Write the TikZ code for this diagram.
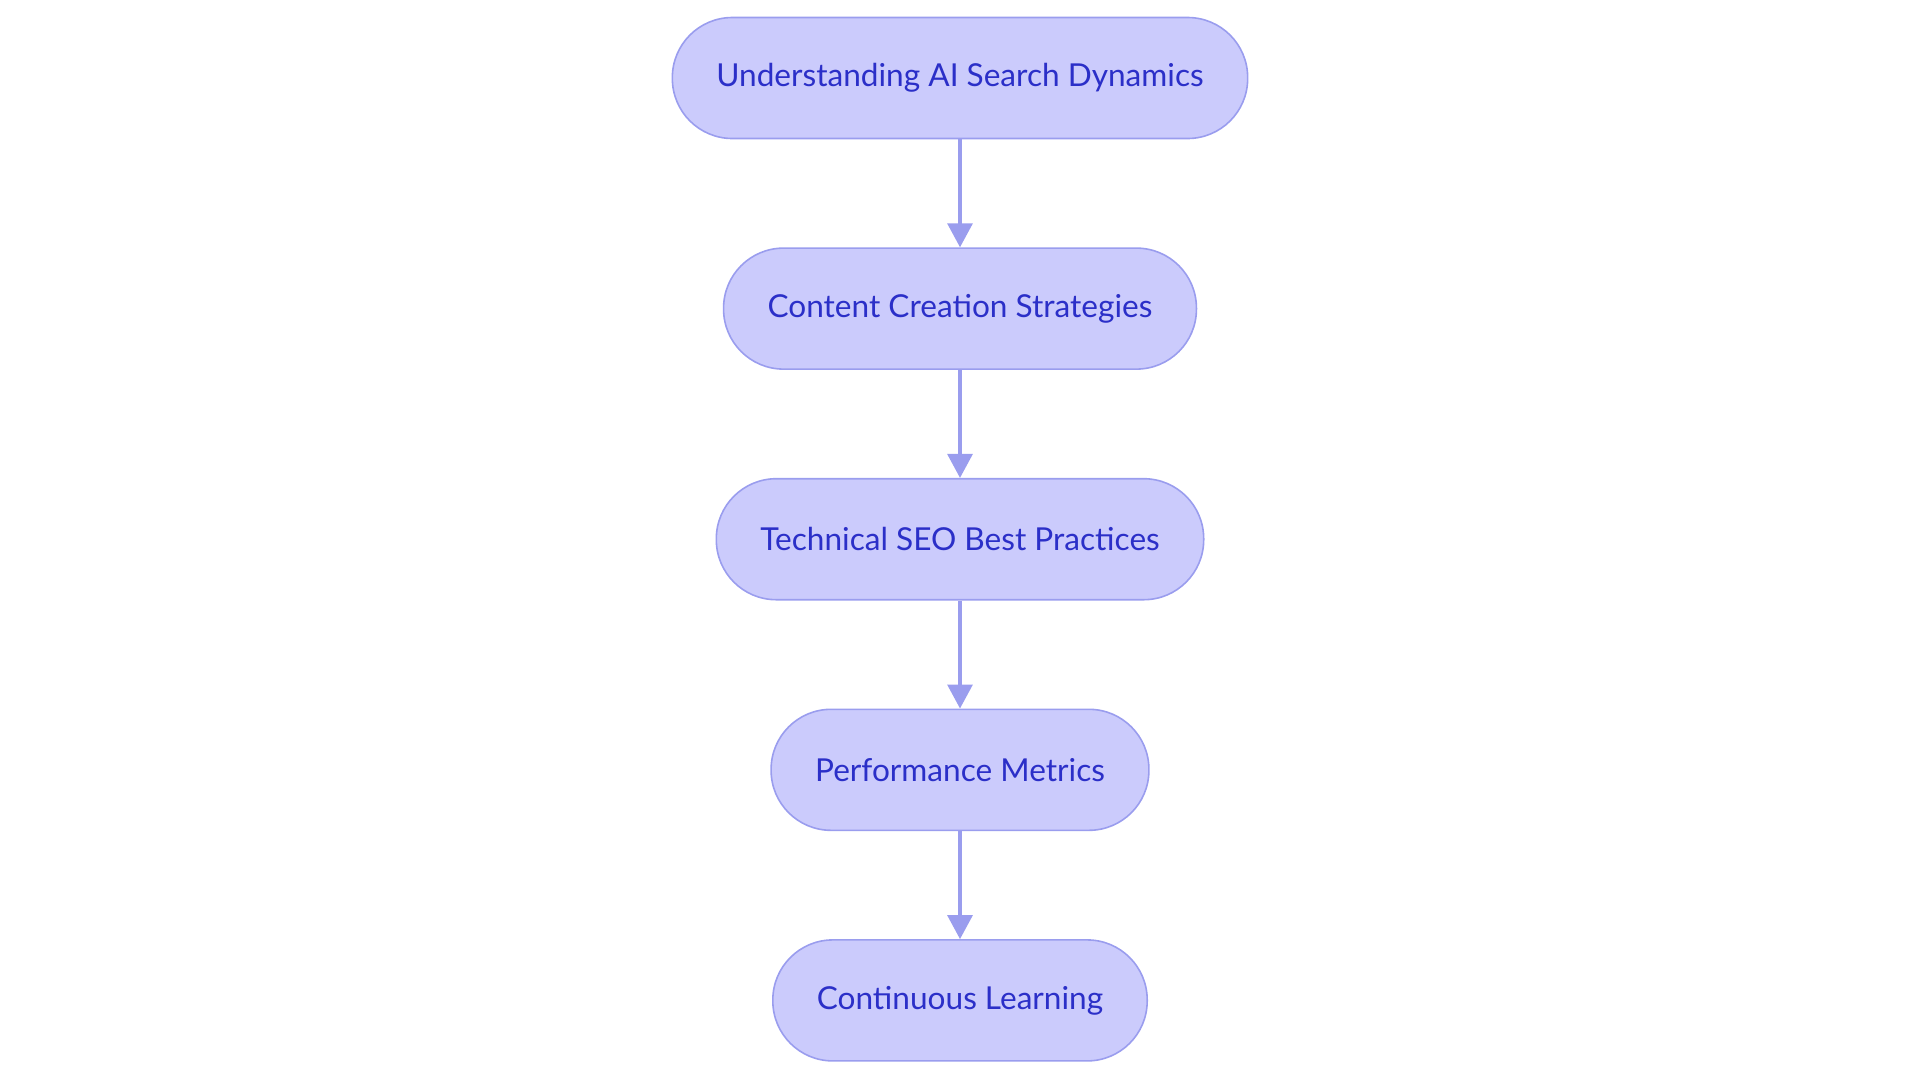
\documentclass[tikz,border=0pt]{standalone}
\usepackage{fontspec}
\setmainfont{Lato}
\usepackage{tikz}
\usetikzlibrary{arrows.meta, positioning}
\usepackage{xcolor}

\definecolor{stepfill}{HTML}{CBCBFC}
\definecolor{stepline}{HTML}{9A9DEE}
\definecolor{steptext}{HTML}{2B2FC8}

\begin{document}
\begin{tikzpicture}[
        stage/.style={rectangle, draw=stepline, line width=0.8pt, fill=stepfill, rounded corners=30pt,
            minimum height=60.5pt, inner xsep=22pt, text=steptext, font=\fontsize{15.8}{18}\selectfont},
        arr/.style={-{Triangle[length=12pt, width=12.5pt]}, line width=1.6pt, stepline},
        node distance=54pt
    ]
        \useasboundingbox (0,0) rectangle (960pt,-541.5pt);

        % Stages, top to bottom
        \node[stage] (dyn) at (480pt,-39pt) {Understanding AI Search Dynamics};
        \node[stage, below=of dyn] (content) {Content Creation Strategies};
        \node[stage, below=of content] (tech) {Technical SEO Best Practices};
        \node[stage, below=of tech] (metrics) {Performance Metrics};
        \node[stage, below=of metrics] (learn) {Continuous Learning};

        % Flow
        \draw[arr] (dyn) -- (content);
        \draw[arr] (content) -- (tech);
        \draw[arr] (tech) -- (metrics);
        \draw[arr] (metrics) -- (learn);
    \end{tikzpicture}
\end{document}
